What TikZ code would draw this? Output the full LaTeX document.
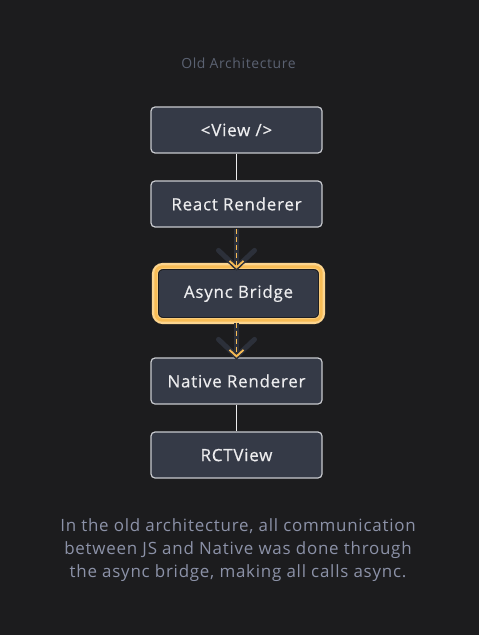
\documentclass[tikz,border=0pt]{standalone}
\usepackage{fontspec}
\setmainfont{Open Sans}
\newfontfamily\boxfont[LetterSpace=4.5,FakeBold=0.5]{Open Sans}
\newfontfamily\capfont[LetterSpace=4.5]{Open Sans}
\definecolor{bg}{HTML}{1C1C1E}
\definecolor{boxfill}{HTML}{353A47}
\definecolor{boxline}{HTML}{C8CACF}
\definecolor{txt}{HTML}{ECECEE}
\definecolor{titlec}{HTML}{5B6272}
\definecolor{capc}{HTML}{8C92A8}
\definecolor{orangec}{HTML}{F8BC55}
\definecolor{glowc}{HTML}{FCD58F}
\definecolor{chev}{HTML}{2C303A}
\tikzset{
  stage/.style={draw=boxline, line width=1.2bp, fill=boxfill, rounded corners=4bp,
    minimum width=171bp, minimum height=46bp, inner sep=0pt, text=txt,
    font=\boxfont\fontsize{17}{20}\selectfont},
  link/.style={draw=txt, line width=1.5bp},
  darkunder/.style={draw=chev, line width=4.5bp},
  dashlink/.style={draw=orangec, line width=1.8bp, dash pattern=on 5bp off 3bp},
  chevdark/.style={draw=chev, line width=5bp, line cap=round, line join=miter},
  chevor/.style={draw=orangec, line width=1.8bp, line join=miter}
}
\begin{document}
\begin{tikzpicture}[x=1bp,y=-1bp]
\fill[bg] (0,0) rectangle (479,635);
\useasboundingbox (0,0) rectangle (479,635);
\node[text=titlec, font=\capfont\fontsize{14}{16}\selectfont] (title) at (238.5,63) {Old Architecture};
\node[stage] (view) at (236.5,130) {<View />};
\node[stage] (react) at (236.5,204) {React Renderer};
\node[stage, minimum width=159bp, minimum height=47bp, draw=none] (async) at (238.5,293.5) {Async Bridge};
\node[stage] (native) at (236.5,381) {Native Renderer};
\node[stage] (rct) at (236.5,455) {RCTView};
% async glow
\draw[glowc, line width=6bp, rounded corners=8bp] ([shift={(-3.5bp,-3.5bp)}]async.south west) rectangle ([shift={(3.5bp,3.5bp)}]async.north east);
\draw[orangec, line width=3bp, rounded corners=6bp] ([shift={(-2.5bp,-2.5bp)}]async.south west) rectangle ([shift={(2.5bp,2.5bp)}]async.north east);
% solid links
\draw[link] (view.south) -- (react.north);
\draw[link] (native.south) -- (rct.north);
% dashed links
\coordinate (tipA) at ([yshift=2bp]async.north -| react.south);
\coordinate (tipB) at ([yshift=1bp]native.north);
\coordinate (startA) at ([yshift=-1bp]react.south);
\coordinate (startB) at ([yshift=-5bp]async.south -| react.south);
\draw[darkunder] (startA) -- (tipA);
\draw[darkunder] (startB) -- (tipB);
\draw[chevdark] ([shift={(-18,-17)}]tipA) -- (tipA) -- ([shift={(18,-17)}]tipA);
\draw[chevdark] ([shift={(-18,-17)}]tipB) -- (tipB) -- ([shift={(18,-17)}]tipB);
\draw[dashlink] (startA) -- (tipA);
\draw[dashlink] (startB) -- (tipB);
\draw[chevor] ([shift={(-7,-6.5)}]tipA) -- (tipA) -- ([shift={(7,-6.5)}]tipA);
\draw[chevor] ([shift={(-7,-6.5)}]tipB) -- (tipB) -- ([shift={(7,-6.5)}]tipB);
% caption
\node[text=capc, align=center, font=\capfont\fontsize{17}{23}\selectfont] (cap) at (238,550)
  {In the old architecture, all communication\\between JS and Native was done through\\the async bridge, making all calls async.};
\end{tikzpicture}
\end{document}
